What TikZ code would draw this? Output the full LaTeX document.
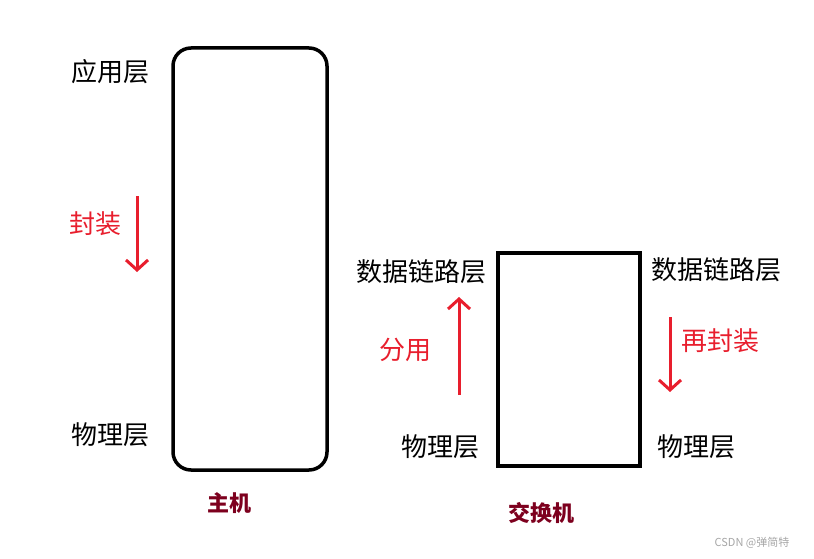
\documentclass[tikz,border=0pt]{standalone}
\usepackage{fontspec}
\setmainfont{Noto Sans CJK SC}
\usetikzlibrary{arrows.meta}
\definecolor{myred}{RGB}{232,30,45}
\definecolor{dred}{RGB}{125,0,30}
\tikzset{
 lbl/.style={font=\fontsize{26}{30}\selectfont, inner sep=0},
 rlbl/.style={lbl, text=myred},
 title/.style={font=\fontsize{22}{26}\selectfont\bfseries, text=dred, inner sep=0},
 box/.style={draw, line width=3.5pt},
 rarr/.style={draw=myred, line width=3pt, -{Straight Barb[length=10pt,width=22pt,line width=3pt]}}
}
\begin{document}
\begin{tikzpicture}[x=1pt,y=-1pt]
\useasboundingbox (0,0) rectangle (814,559);
\draw[box, rounded corners=18pt] (173,48) rectangle (327,470);
\node (hostc) at (250,260) {};
\draw[box] (498,253) rectangle (640,466);
\node[lbl] (app) at (110,72) {应用层};
\node[rlbl] (enc) at (95,224) {封装};
\coordinate (a1) at (137,196); \coordinate (a2) at (137,272);
\draw[rarr] (a1) -- (a2);
\node[lbl] (phy1) at (110,435) {物理层};
\node[title] (host) at (229,503) {主机};
\node[lbl] (dl1) at (421,272) {数据链路层};
\node[lbl] (dl2) at (716,270) {数据链路层};
\node[rlbl] (demux) at (405,350) {分用};
\coordinate (b1) at (459,395); \coordinate (b2) at (459,297);
\draw[rarr] (b1) -- (b2);
\node[lbl] (phy2) at (440,447) {物理层};
\node[lbl] (phy3) at (696,447) {物理层};
\node[rlbl] (reenc) at (720,341) {再封装};
\coordinate (c1) at (670,317); \coordinate (c2) at (670,392);
\draw[rarr] (c1) -- (c2);
\node[title] (sw) at (541,513) {交换机};
\node[font=\fontsize{11}{13}\selectfont, text=gray!70, inner sep=0] (wm) at (752,543) {CSDN @弹简特};
\end{tikzpicture}
\end{document}
